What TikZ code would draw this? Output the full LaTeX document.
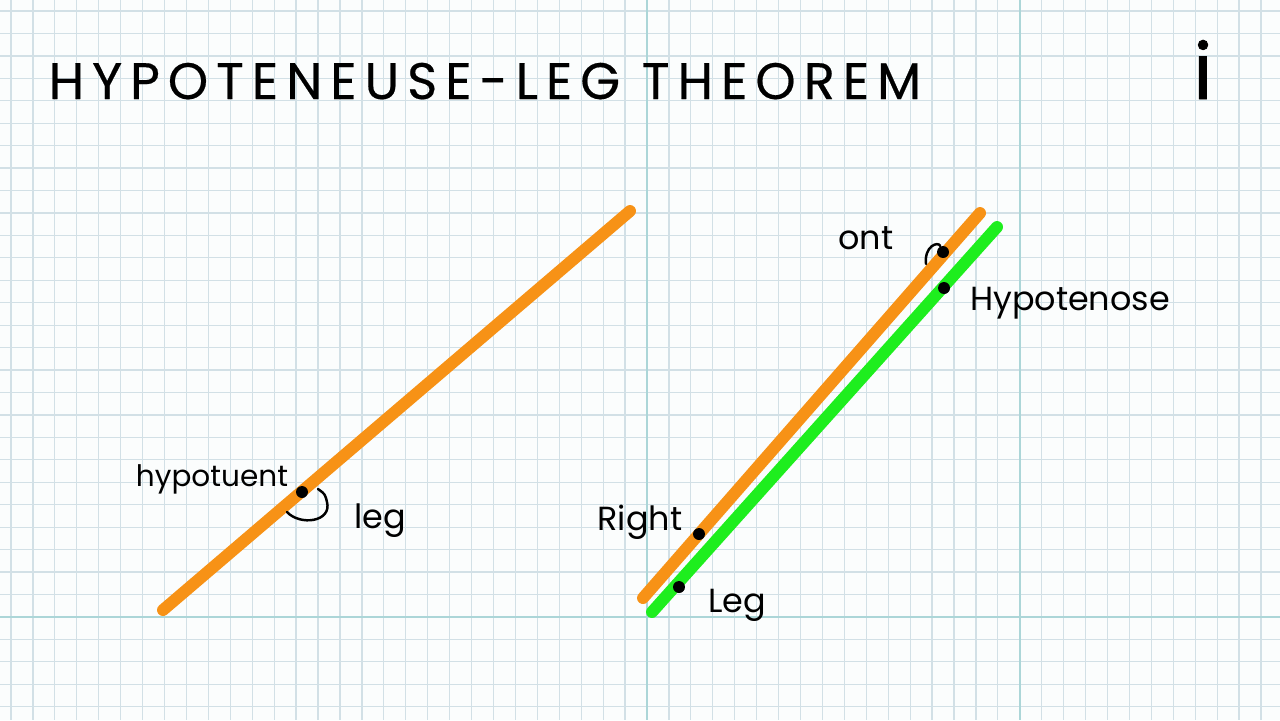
\documentclass[tikz,border=0pt]{standalone}
\usepackage{fontspec}
\setmainfont{Poppins}
\newfontfamily\titlefont[LetterSpace=15.5,FakeBold=0.4]{Poppins}
\newfontfamily\infofont[FakeBold=1.2]{Poppins}
\usetikzlibrary{positioning}
\definecolor{paper}{RGB}{251,253,253}
\definecolor{gridblue}{RGB}{210,224,230}
\definecolor{gridteal}{RGB}{172,214,216}
\definecolor{hypoorange}{RGB}{247,146,22}
\definecolor{leggreen}{RGB}{30,238,30}

\begin{document}
\begin{tikzpicture}[x=0.01cm,y=-0.01cm,
  labeltext/.style={font=\fontsize{9.5}{10}\selectfont, inner sep=0pt},
  seg/.style={line width=3.4pt, line cap=round},
  pin/.style={circle, fill=black, inner sep=0pt, minimum size=3.4pt},
  hook/.style={line width=0.7pt, line cap=round}]
  \useasboundingbox (0,0) rectangle (1280,720);
  \fill[paper] (0,0) rectangle (1280,720);

  % graph paper
  \foreach \i in {0,...,58}
    \draw[gridblue, line width=0.35pt] ({11+21.93*\i},0) -- ({11+21.93*\i},720);
  \foreach \j in {0,...,31}
    \draw[gridblue, line width=0.35pt] (0,{11+22.44*\j}) -- (1280,{11+22.44*\j});
  \foreach \x in {647,1020}
    \draw[gridteal, line width=0.6pt] (\x,0) -- (\x,720);
  \draw[gridteal, line width=0.6pt] (0,617) -- (1280,617);

  % title
  \node[anchor=base west, inner sep=0pt, font=\titlefont\fontsize{14.6}{16}\selectfont]
    (title) at (48,99) {HYPOTENEUSE-LEG THEOREM};
  \node[anchor=base, inner sep=0pt, font=\infofont\fontsize{22}{24}\selectfont] (info) at (1203,99) {i};

  % end points
  \coordinate (A1) at (163,610);
  \coordinate (A2) at (630,211);
  \coordinate (B1) at (643,598);
  \coordinate (B2) at (980,213);
  \coordinate (C1) at (652,612);
  \coordinate (C2) at (997,227);

  \draw[seg, hypoorange] (A1) -- (A2);
  \draw[seg, hypoorange] (B1) -- (B2);
  \draw[seg, leggreen] (C1) -- (C2);

  % points on the sides
  \node[pin] (p1) at (302,492) {};
  \node[pin] (q1) at (943,252) {};
  \node[pin] (q2) at (944,288) {};
  \node[pin] (q3) at (699,534) {};
  \node[pin] (q4) at (679,587) {};

  % angle marks
  \coordinate (h1) at (287,512);
  \coordinate (h2) at (318,489);
  \draw[hook] (h1) .. controls (300,526) and (332,522) .. (327,502) .. controls (325,494) .. (h2);
  \coordinate (k1) at (926,264);
  \draw[hook] (k1) .. controls (924,246) and (938,241) .. (q1);

  % labels
  \node[labeltext, font=\fontsize{8.4}{10}\selectfont] (hyp) at (212,479) {hypotuent};
  \node[labeltext] (leg) at (380,521) {leg};
  \node[labeltext] (ont) at (866,238) {ont};
  \node[labeltext] (hyp2) at (1070,303) {Hypotenose};
  \node[labeltext] (right) at (640,522) {Right};
  \node[labeltext] (leg2) at (737,605) {Leg};
\end{tikzpicture}
\end{document}
